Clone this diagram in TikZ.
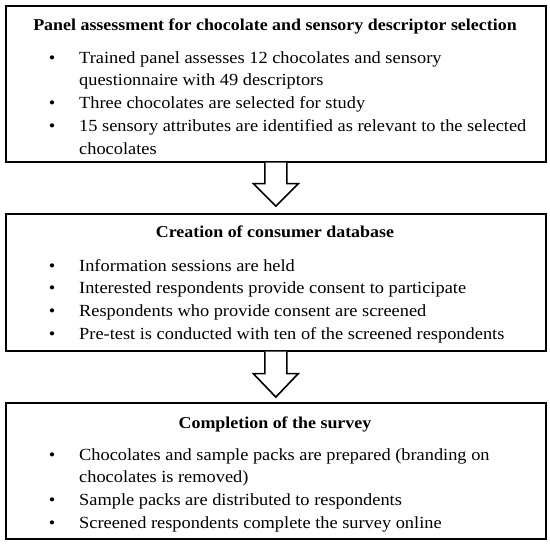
\documentclass[tikz,border=0pt]{standalone}
\usepackage{fontspec}
\setmainfont{Liberation Serif}[FakeStretch=1.08]
\begin{document}
\begin{tikzpicture}[x=1pt,y=-1pt]
\useasboundingbox (0,0) rectangle (550,544);
\tikzset{
 box/.style={draw, line width=1.6pt, minimum width=540pt, inner sep=0pt, anchor=north west},
 ttl/.style={anchor=base, inner sep=0pt, font=\fontsize{16.6}{20}\selectfont\bfseries},
 itm/.style={anchor=base west, inner sep=0pt, font=\fontsize{17}{20}\selectfont},
 bul/.style={anchor=base, inner sep=0pt, font=\fontsize{17}{20}\selectfont},
 blk/.style={draw, line width=1.6pt, fill=white, line join=miter},
}
% boxes
\node[box, minimum height=156pt] (b1) at (5,5) {};
\node[box, minimum height=137pt] (b2) at (5,213) {};
\node[box, minimum height=136pt] (b3) at (5,402) {};
% box 1
\node[ttl] (t1) at (275,30) {Panel assessment for chocolate and sensory descriptor selection};
\node[bul] (u11) at (52,63) {\textbullet};
\node[itm] (i11) at (79,63) {Trained panel assesses 12 chocolates and sensory};
\node[itm] (i11b) at (79,85.8) {questionnaire with 49 descriptors};
\node[bul] (u12) at (52,108.6) {\textbullet};
\node[itm] (i12) at (79,108.6) {Three chocolates are selected for study};
\node[bul] (u13) at (52,131.4) {\textbullet};
\node[itm] (i13) at (79,131.4) {15 sensory attributes are identified as relevant to the selected};
\node[itm] (i13b) at (79,154.2) {chocolates};
% box 2
\node[ttl] (t2) at (275,237) {Creation of consumer database};
\node[bul] (u21) at (52,271) {\textbullet};
\node[itm] (i21) at (79,271) {Information sessions are held};
\node[bul] (u22) at (52,293.8) {\textbullet};
\node[itm] (i22) at (79,293.8) {Interested respondents provide consent to participate};
\node[bul] (u23) at (52,316.6) {\textbullet};
\node[itm] (i23) at (79,316.6) {Respondents who provide consent are screened};
\node[bul] (u24) at (52,339.4) {\textbullet};
\node[itm] (i24) at (79,339.4) {Pre-test is conducted with ten of the screened respondents};
% box 3
\node[ttl] (t3) at (275,428) {Completion of the survey};
\node[bul] (u31) at (52,460) {\textbullet};
\node[itm] (i31) at (79,460) {Chocolates and sample packs are prepared (branding on};
\node[itm] (i31b) at (79,482.8) {chocolates is removed)};
\node[bul] (u32) at (52,505.6) {\textbullet};
\node[itm] (i32) at (79,505.6) {Sample packs are distributed to respondents};
\node[bul] (u33) at (52,528) {\textbullet};
\node[itm] (i33) at (79,528) {Screened respondents complete the survey online};
% block arrows
\draw[blk] ([xshift=-11pt]b1.south) -- ++(0,21) -- ++(-11.5,0) -- ++(22.5,22.5) -- ++(22.5,-22.5) -- ++(-11.5,0) -- ([xshift=11pt]b1.south);
\draw[blk] ([xshift=-11pt]b2.south) -- ++(0,22) -- ++(-11.5,0) -- ++(22.5,23.5) -- ++(22.5,-23.5) -- ++(-11.5,0) -- ([xshift=11pt]b2.south);
\end{tikzpicture}
\end{document}
